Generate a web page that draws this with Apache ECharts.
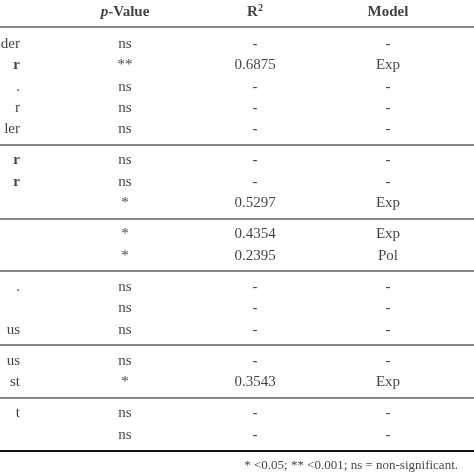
<!DOCTYPE html>
<html>
<head>
<meta charset="utf-8">
<script src="https://cdn.jsdelivr.net/npm/echarts/dist/echarts.min.js"></script>
<style>html,body{margin:0;background:#fff}#main{width:474px;height:474px}</style>
</head>
<body>
<div id="main"></div>
<script>
// table rows (left column is cut off in the source)
var rowLabels = ['der', 'r', '.', 'r', 'ler', 'r', 'r', '', '', '', '.', '', 'us', 'us', 'st', 't'];
var boldRows  = [false, true, false, false, false, true, true, false, false, false, false, false, false, false, false, false];
var pValues   = ['ns', '**', 'ns', 'ns', 'ns', 'ns', 'ns', '*', '*', '*', 'ns', 'ns', 'ns', 'ns', '*', 'ns', 'ns'];
var r2Values  = ['-', '0.6875', '-', '-', '-', '-', '-', '0.5297', '0.4354', '0.2395', '-', '-', '-', '-', '0.3543', '-', '-'];
var models    = ['-', 'Exp', '-', '-', '-', '-', '-', 'Exp', 'Exp', 'Pol', '-', '-', '-', '-', 'Exp', '-', '-'];
var groupSizes = [5, 3, 2, 3, 2, 2];
var footnote = '* <0.05; ** <0.001; ns = non-significant.';

var font = 'Liberation Serif';
var rowY = [], boundaries = [];
var idx = 0;
groupSizes.forEach(function (n, g) {
  for (var i = 0; i < n; i++) { rowY.push(44 + idx * 21.3 + g * 10); idx++; }
  boundaries.push(44 + (idx - 1) * 21.3 + g * 10 + 15.5);
});
pValues = pValues.slice(0, rowY.length);
r2Values = r2Values.slice(0, rowY.length);
models = models.slice(0, rowY.length);

function textItem(x, y, text, extra) {
  return { value: [x, y], name: text, label: extra || {} };
}
function col(x, vals, align) {
  return {
    type: 'scatter', symbolSize: 1, silent: true,
    itemStyle: { color: 'rgba(0,0,0,0)' },
    data: vals.map(function (v, i) { return textItem(x, rowY[i], v); }),
    label: { show: true, position: 'inside', align: align || 'center',
      formatter: function (p) { return p.name; },
      fontFamily: font, fontSize: 15, color: '#111' }
  };
}
var leftSeries = col(20, rowLabels, 'right');
leftSeries.data = rowLabels.map(function (v, i) {
  return textItem(20, rowY[i], v, { fontWeight: boldRows[i] ? 'bold' : 'normal' });
});

var lines = [{ yAxis: 27, lineStyle: { color: '#888', width: 2, type: 'solid' } }];
boundaries.forEach(function (b, i) {
  lines.push({ yAxis: b, lineStyle: { color: i === boundaries.length - 1 ? '#111' : '#888', width: 2, type: 'solid' } });
});

var header = {
  type: 'scatter', symbolSize: 1, silent: true,
  itemStyle: { color: 'rgba(0,0,0,0)' },
  data: [
    textItem(125, 12, '{i|p}-Value'),
    textItem(255, 12, 'R{s|2}'),
    textItem(388, 12, 'Model'),
    textItem(458, 466, '{f|' + footnote + '}', { align: 'right' })
  ],
  label: { show: true, position: 'inside', fontFamily: font, fontSize: 15, color: '#111', fontWeight: 'bold',
    formatter: function (p) { return p.name; },
    rich: {
      i: { fontStyle: 'italic', fontWeight: 'bold', fontFamily: font, fontSize: 15, color: '#111' },
      s: { fontSize: 10, fontWeight: 'bold', fontFamily: font, color: '#111', verticalAlign: 'top', padding: [0, 0, 7, 0] },
      f: { fontSize: 13, fontWeight: 'normal', fontFamily: font, color: '#111' }
    }
  },
  markLine: { silent: true, symbol: 'none', label: { show: false }, data: lines }
};

var myChart = echarts.init(document.getElementById('main'));
myChart.setOption({
  animation: false,
  backgroundColor: '#fff',
  grid: { left: 0, right: 0, top: 0, bottom: 0 },
  xAxis: { type: 'value', min: 0, max: 474, show: false },
  yAxis: { type: 'value', min: 0, max: 474, inverse: true, show: false },
  series: [header, leftSeries, col(125, pValues), col(255, r2Values), col(388, models)]
});
</script>
</body>
</html>
